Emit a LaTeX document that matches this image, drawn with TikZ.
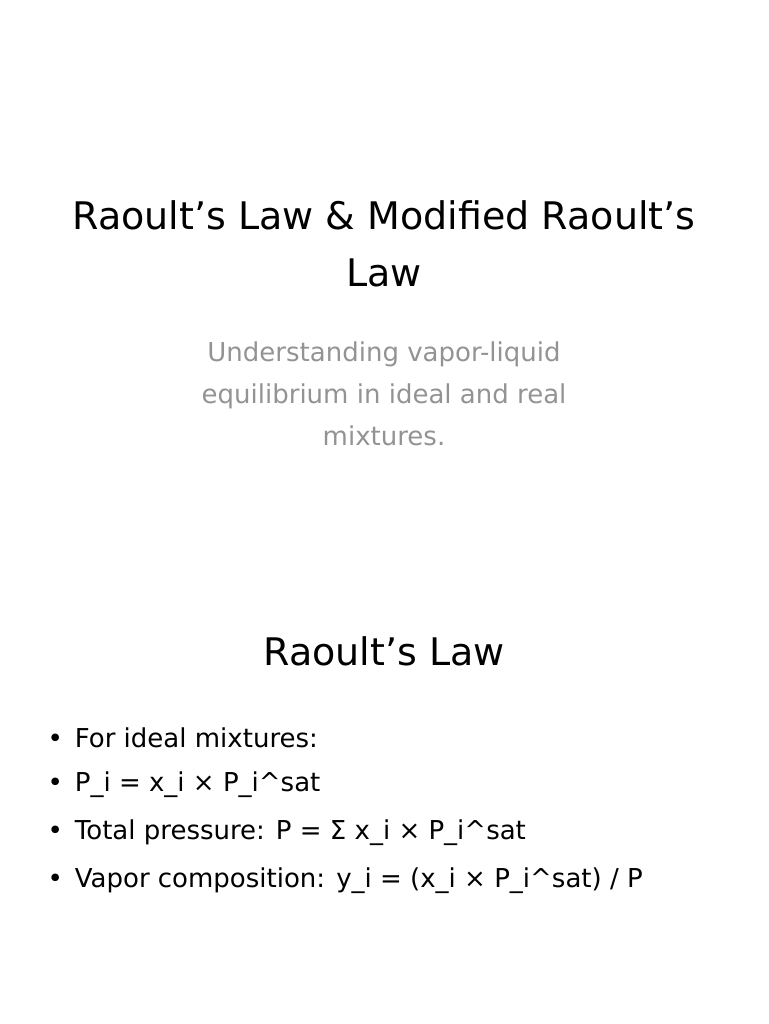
\documentclass[tikz,border=0pt]{standalone}
\usepackage{fontspec}
\setmainfont{DejaVu Sans}
\begin{document}
\begin{tikzpicture}[x=1pt,y=-1pt,
  title/.style={font=\fontsize{38}{57}\selectfont, align=center, text=black},
  sub/.style={font=\fontsize{26}{42}\selectfont, align=center, text=gray!85},
  bul/.style={font=\fontsize{26}{48}\selectfont, anchor=west, text=black}]
\useasboundingbox (0,0) rectangle (768,1024);
\node[title] (t) at (384,244) {Raoult’s Law \& Modified Raoult’s\\Law};
\node[sub] (s) at (384,394) {Understanding vapor-liquid\\equilibrium in ideal and real\\mixtures.};
\node[title] (h) at (384,651) {Raoult’s Law};
\node[bul] (b1) at (44,738) {•\hspace{12pt}For ideal mixtures:};
\node[bul] (b2) at (44,785) {•\hspace{12pt}P\_i = x\_i × P\_i\^{}sat};
\node[bul] (b3) at (44,833) {•\hspace{12pt}Total pressure: P = Σ x\_i × P\_i\^{}sat};
\node[bul] (b4) at (44,881) {•\hspace{12pt}Vapor composition: y\_i = (x\_i × P\_i\^{}sat) / P};
\end{tikzpicture}
\end{document}
